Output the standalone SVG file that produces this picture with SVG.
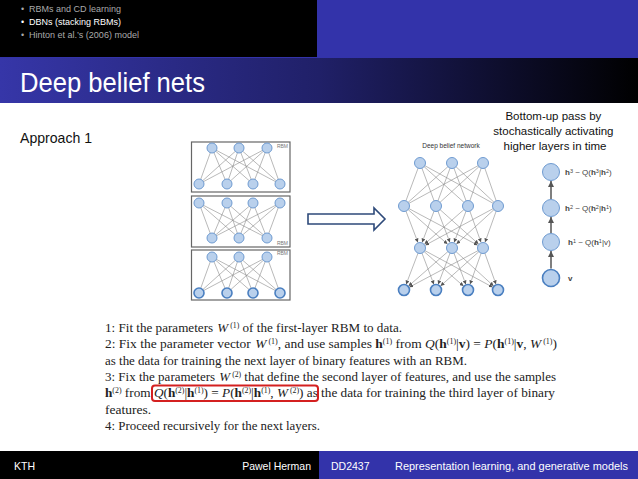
<svg xmlns="http://www.w3.org/2000/svg" width="638" height="479" viewBox="0 0 638 479">
<defs>
<linearGradient id="tg" x1="0" y1="0" x2="1" y2="0">
<stop offset="0" stop-color="#3636a8"/>
<stop offset="0.5" stop-color="#202068"/>
<stop offset="1" stop-color="#000000"/>
</linearGradient>
<marker id="ah" markerWidth="4" markerHeight="4" refX="4" refY="2" orient="auto" markerUnits="userSpaceOnUse">
<path d="M0,0 L4,2 L0,4 z" fill="#555"/>
</marker>
<marker id="ah2" markerWidth="6" markerHeight="6" refX="6" refY="3" orient="auto" markerUnits="userSpaceOnUse">
<path d="M0,0 L6,3 L0,6 z" fill="#555"/>
</marker>
<style>
.hdr{font-family:"Liberation Sans",Arial,sans-serif;font-size:9px}
.sans{font-family:"Liberation Sans",Arial,sans-serif}
.ser{font-family:"Liberation Serif","Times New Roman",serif;font-size:13.5px;fill:#222}
.ser .i{font-style:italic}
.ser .b{font-weight:bold}
.sup{font-size:8px;baseline-shift:45%}
.nd{fill:#b9d0ec;stroke:#6f9bd1;stroke-width:1}
.vis{fill:#b9d0ec;stroke:#4a7fc0;stroke-width:1.6}
.box{fill:#fff;stroke:#666;stroke-width:1.2}
.e{stroke:#8a8a8a;stroke-width:0.6;fill:none}
.d{stroke:#8a8a8a;stroke-width:0.6;fill:none;marker-end:url(#ah)}
.rbm{font-family:"Liberation Sans",Arial,sans-serif;font-size:5px;fill:#777}
.ft{font-family:"Liberation Sans",Arial,sans-serif;font-size:10.5px;fill:#fff}
.cl{font-family:"Liberation Sans",Arial,sans-serif;font-size:8px;fill:#444}
.cl .b{font-weight:bold}
.cl .s{font-size:5.5px;baseline-shift:40%}
</style>
</defs>

<rect x="0" y="0" width="638" height="479" fill="#ffffff"/>
<g id="header">
<rect x="0" y="0" width="638" height="58" fill="#3333aa"/>
<rect x="0" y="0" width="317" height="57" fill="#000"/>
<text class="hdr" x="21" y="12" fill="#aaa">•</text>
<text class="hdr" x="29" y="12" fill="#aaa">RBMs and CD learning</text>
<text class="hdr" x="21" y="25" fill="#fff">•</text>
<text class="hdr" x="29" y="25" fill="#fff">DBNs (stacking RBMs)</text>
<text class="hdr" x="21" y="38" fill="#aaa">•</text>
<text class="hdr" x="29" y="38" fill="#aaa">Hinton et al.’s (2006) model</text>
</g>
<g id="title">
<rect x="0" y="58" width="638" height="45" fill="url(#tg)"/>
<text class="sans" x="20" y="92" font-size="27" fill="#fff" textLength="185" lengthAdjust="spacingAndGlyphs">Deep belief nets</text>
</g>
<text class="sans" x="20" y="143" font-size="15" fill="#111" textLength="72" lengthAdjust="spacingAndGlyphs">Approach 1</text>

<g id="rbm1">
<rect class="box" x="191.5" y="142" width="98.5" height="50"/>
<text class="rbm" x="288" y="148" text-anchor="end">RBM</text>
<path class="e" d="M212,148L199,184M212,148L227,184M212,148L253,184M212,148L280,184M239,148L199,184M239,148L227,184M239,148L253,184M239,148L280,184M267,148L199,184M267,148L227,184M267,148L253,184M267,148L280,184"/>
<circle class="nd" cx="212" cy="148" r="5"/><circle class="nd" cx="239" cy="148" r="5"/><circle class="nd" cx="267" cy="148" r="5"/>
<circle class="nd" cx="199" cy="184" r="5"/><circle class="nd" cx="227" cy="184" r="5"/><circle class="nd" cx="253" cy="184" r="5"/><circle class="nd" cx="280" cy="184" r="5"/>
</g>
<g id="rbm2">
<rect class="box" x="191.5" y="196" width="98.5" height="51"/>
<text class="rbm" x="288" y="245" text-anchor="end">RBM</text>
<path class="e" d="M212,238L199,203M212,238L227,203M212,238L253,203M212,238L280,203M239,238L199,203M239,238L227,203M239,238L253,203M239,238L280,203M267,238L199,203M267,238L227,203M267,238L253,203M267,238L280,203"/>
<circle class="nd" cx="199" cy="203" r="5"/><circle class="nd" cx="227" cy="203" r="5"/><circle class="nd" cx="253" cy="203" r="5"/><circle class="nd" cx="280" cy="203" r="5"/>
<circle class="nd" cx="212" cy="238" r="5"/><circle class="nd" cx="239" cy="238" r="5"/><circle class="nd" cx="267" cy="238" r="5"/>
</g>
<g id="rbm3">
<rect class="box" x="191.5" y="250" width="98.5" height="50"/>
<text class="rbm" x="288" y="255" text-anchor="end">RBM</text>
<path class="e" d="M212,257L199,293M212,257L227,293M212,257L253,293M212,257L280,293M239,257L199,293M239,257L227,293M239,257L253,293M239,257L280,293M267,257L199,293M267,257L227,293M267,257L253,293M267,257L280,293"/>
<circle class="nd" cx="212" cy="257" r="5"/><circle class="nd" cx="239" cy="257" r="5"/><circle class="nd" cx="267" cy="257" r="5"/>
<circle class="vis" cx="199" cy="293" r="5"/><circle class="vis" cx="227" cy="293" r="5"/><circle class="vis" cx="253" cy="293" r="5"/><circle class="vis" cx="280" cy="293" r="5"/>
</g>

<g id="bigarrow">
<path d="M308,214 L374,214 L374,208 L385,219 L374,230 L374,224 L308,224 Z" fill="#fff" stroke="#2e4a7a" stroke-width="1.6"/>
</g>

<g id="dbn">
<text class="sans" x="451" y="148" font-size="6.5" fill="#333" text-anchor="middle">Deep belief network</text>
<g id="dbn-edges">
<path class="e" d="M420,163L404,206M420,163L436,206M420,163L468,206M420,163L498,206M452,163L404,206M452,163L436,206M452,163L468,206M452,163L498,206M483,163L404,206M483,163L436,206M483,163L468,206M483,163L498,206"/>
<line class="d" x1="404" y1="206" x2="417.9" y2="242.4"/>
<line class="d" x1="404" y1="206" x2="447.5" y2="244.1"/>
<line class="d" x1="404" y1="206" x2="477.7" y2="245.2"/>
<line class="d" x1="436" y1="206" x2="422.1" y2="242.4"/>
<line class="d" x1="436" y1="206" x2="449.9" y2="242.4"/>
<line class="d" x1="436" y1="206" x2="478.5" y2="244.0"/>
<line class="d" x1="468" y1="206" x2="424.5" y2="244.1"/>
<line class="d" x1="468" y1="206" x2="454.1" y2="242.4"/>
<line class="d" x1="468" y1="206" x2="481.0" y2="242.3"/>
<line class="d" x1="498" y1="206" x2="425.3" y2="245.2"/>
<line class="d" x1="498" y1="206" x2="456.4" y2="244.0"/>
<line class="d" x1="498" y1="206" x2="485.0" y2="242.3"/>
<line class="d" x1="420" y1="248" x2="406.1" y2="284.4"/>
<line class="d" x1="420" y1="248" x2="433.9" y2="284.4"/>
<line class="d" x1="420" y1="248" x2="463.5" y2="286.1"/>
<line class="d" x1="420" y1="248" x2="492.7" y2="287.2"/>
<line class="d" x1="452" y1="248" x2="408.5" y2="286.1"/>
<line class="d" x1="452" y1="248" x2="438.1" y2="284.4"/>
<line class="d" x1="452" y1="248" x2="465.9" y2="284.4"/>
<line class="d" x1="452" y1="248" x2="493.6" y2="286.0"/>
<line class="d" x1="483" y1="248" x2="409.3" y2="287.2"/>
<line class="d" x1="483" y1="248" x2="440.5" y2="286.0"/>
<line class="d" x1="483" y1="248" x2="470.0" y2="284.3"/>
<line class="d" x1="483" y1="248" x2="496.0" y2="284.3"/>
</g>
<circle class="nd" cx="420" cy="163" r="5.5"/><circle class="nd" cx="452" cy="163" r="5.5"/><circle class="nd" cx="483" cy="163" r="5.5"/>
<circle class="nd" cx="404" cy="206" r="5.5"/><circle class="nd" cx="436" cy="206" r="5.5"/><circle class="nd" cx="468" cy="206" r="5.5"/><circle class="nd" cx="498" cy="206" r="5.5"/>
<circle class="nd" cx="420" cy="248" r="5.5"/><circle class="nd" cx="452" cy="248" r="5.5"/><circle class="nd" cx="483" cy="248" r="5.5"/>
<circle class="vis" cx="404" cy="290" r="5.5"/><circle class="vis" cx="436" cy="290" r="5.5"/><circle class="vis" cx="468" cy="290" r="5.5"/><circle class="vis" cx="498" cy="290" r="5.5"/>
</g>

<g id="caption">
<text class="sans" font-size="11.5" fill="#111" text-anchor="middle">
<tspan x="555" y="120">Bottom-up pass by</tspan>
<tspan x="555" y="135">stochastically activating</tspan>
<tspan x="555" y="150">higher layers in time</tspan>
</text>
</g>

<g id="chain-edges" stroke="#555" stroke-width="1.5" fill="none">
<line x1="551" y1="268.5" x2="551" y2="251" marker-end="url(#ah2)"/>
<line x1="551" y1="233" x2="551" y2="217" marker-end="url(#ah2)"/>
<line x1="551" y1="199" x2="551" y2="181" marker-end="url(#ah2)"/>
</g>
<g id="chain-h3"><circle class="nd" cx="551" cy="172" r="8.5" stroke-width="1.5"/>
<text class="cl" x="565" y="175"><tspan class="b">h</tspan><tspan class="s">3</tspan> ~ Q(<tspan class="b">h</tspan><tspan class="s">3</tspan>|<tspan class="b">h</tspan><tspan class="s">2</tspan>)</text></g>
<g id="chain-h2"><circle class="nd" cx="551" cy="208" r="8.5" stroke-width="1.5"/>
<text class="cl" x="565" y="211"><tspan class="b">h</tspan><tspan class="s">2</tspan> ~ Q(<tspan class="b">h</tspan><tspan class="s">2</tspan>|<tspan class="b">h</tspan><tspan class="s">1</tspan>)</text></g>
<g id="chain-h1"><circle class="nd" cx="551" cy="242" r="8.5" stroke-width="1.5"/>
<text class="cl" x="568" y="245"><tspan class="b">h</tspan><tspan class="s">1</tspan> ~ Q(<tspan class="b">h</tspan><tspan class="s">1</tspan>|v)</text></g>
<g id="chain-v"><circle class="vis" cx="551" cy="278" r="8.5" stroke-width="3"/>
<text class="cl" x="568" y="281"><tspan class="b">v</tspan></text></g>

<g id="algorithm">
<text class="ser" x="105" y="332" textLength="297" lengthAdjust="spacingAndGlyphs">1: Fit the parameters <tspan class="i" dx="1">W</tspan><tspan class="sup" dx="2">(1)</tspan> of the first-layer RBM to data.</text>
<text class="ser" x="105" y="348.3" textLength="452" lengthAdjust="spacingAndGlyphs">2: Fix the parameter vector <tspan class="i" dx="1">W</tspan><tspan class="sup" dx="2">(1)</tspan>, and use samples <tspan class="b">h</tspan><tspan class="sup">(1)</tspan> from <tspan class="i">Q</tspan>(<tspan class="b">h</tspan><tspan class="sup">(1)</tspan>|<tspan class="b">v</tspan>) = <tspan class="i">P</tspan>(<tspan class="b">h</tspan><tspan class="sup">(1)</tspan>|<tspan class="b">v</tspan>, <tspan class="i">W</tspan><tspan class="sup" dx="2">(1)</tspan>)</text>
<text class="ser" x="105" y="364.7" textLength="362" lengthAdjust="spacingAndGlyphs">as the data for training the next layer of binary features with an RBM.</text>
<text class="ser" x="105" y="381" textLength="451" lengthAdjust="spacingAndGlyphs">3: Fix the parameters <tspan class="i" dx="1">W</tspan><tspan class="sup" dx="2">(2)</tspan> that define the second layer of features, and use the samples</text>
<text class="ser" x="105" y="397.3" textLength="450" lengthAdjust="spacingAndGlyphs"><tspan class="b">h</tspan><tspan class="sup">(2)</tspan> from <tspan class="i">Q</tspan>(<tspan class="b">h</tspan><tspan class="sup">(2)</tspan>|<tspan class="b">h</tspan><tspan class="sup">(1)</tspan>) = <tspan class="i">P</tspan>(<tspan class="b">h</tspan><tspan class="sup">(2)</tspan>|<tspan class="b">h</tspan><tspan class="sup">(1)</tspan>, <tspan class="i">W</tspan><tspan class="sup" dx="2">(2)</tspan>) as the data for training the third layer of binary</text>
<text class="ser" x="105" y="413.7">features.</text>
<text class="ser" x="105" y="430" textLength="215" lengthAdjust="spacingAndGlyphs">4: Proceed recursively for the next layers.</text>
<rect x="152" y="385.5" width="166" height="15.5" rx="3" fill="none" stroke="#d42020" stroke-width="2"/>
</g>

<g id="footer">
<rect x="0" y="451" width="638" height="28" fill="#000"/>
<rect x="319" y="451" width="319" height="28" fill="#3333aa"/>
<text class="ft" x="14" y="470">KTH</text>
<text class="ft" x="311" y="470" text-anchor="end">Pawel Herman</text>
<text class="ft" x="331" y="470">DD2437</text>
<text class="ft" x="395" y="470" textLength="233" lengthAdjust="spacingAndGlyphs">Representation learning, and generative models</text>
</g>
</svg>
